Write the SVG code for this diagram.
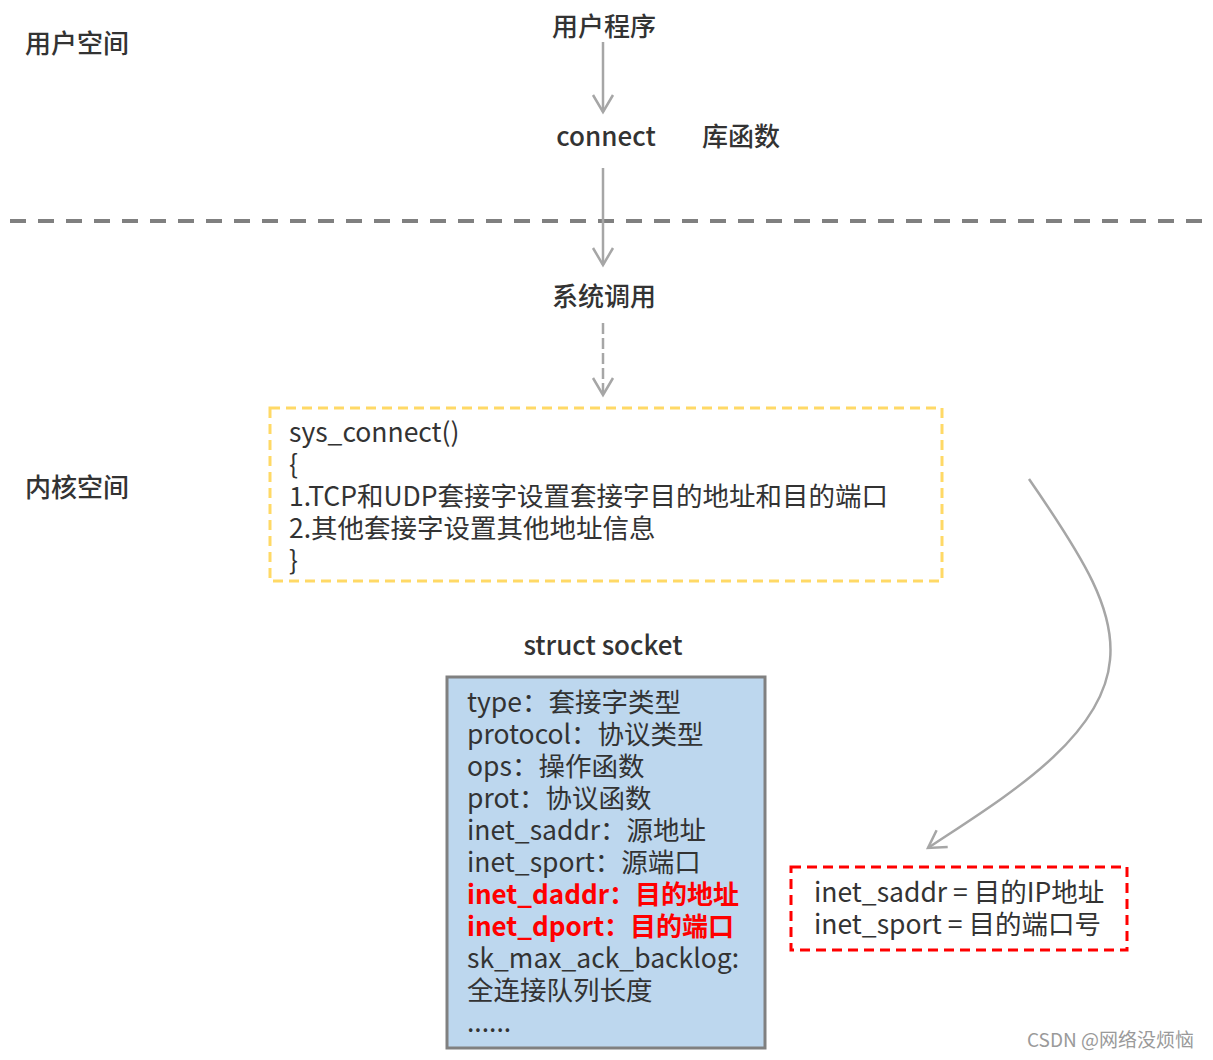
<svg xmlns="http://www.w3.org/2000/svg" width="1213" height="1060" viewBox="0 0 1213 1060">
<style>
text{font-family:"Noto Sans CJK SC","Liberation Sans",sans-serif;fill:#333333}
.title{font-size:26px;font-weight:500}
.body{font-size:26.5px}
.red{fill:#FF0000;font-weight:700;font-size:26px}
.conn{fill:none;stroke:#A6A6A6;stroke-width:2.5}
.wm{font-size:19px;fill:#9A9A9A}
</style>
<defs>
<marker id="arr" markerWidth="30" markerHeight="30" refX="20" refY="15" orient="auto" markerUnits="userSpaceOnUse">
<path d="M3,5 L20,15 L3,25" fill="none" stroke="#A6A6A6" stroke-width="2.5"/>
</marker>
</defs>
<rect width="1213" height="1060" fill="#FFFFFF"/>
<line x1="10" y1="221" x2="1203" y2="221" stroke="#808080" stroke-width="4" stroke-dasharray="16 12"/>
<g id="label-user"><text class="title" x="25" y="53">用户空间</text></g>
<g id="label-kernel"><text class="title" x="25" y="497">内核空间</text></g>
<g id="user-program"><text class="title" x="604" y="36" text-anchor="middle">用户程序</text></g>
<g id="connect"><text class="title" x="606" y="146" text-anchor="middle">connect</text></g>
<g id="libfunc"><text class="title" x="702" y="146">库函数</text></g>
<g id="syscall"><text class="title" x="604" y="306" text-anchor="middle">系统调用</text></g>
<g id="sys-connect">
<rect x="270" y="408" width="672" height="173" fill="none" stroke="#FFD966" stroke-width="3" stroke-dasharray="10 6"/>
<text class="body" x="289" y="442">sys_connect()</text>
<text class="body" x="289" y="474">{</text>
<text class="body" x="289" y="506">1.TCP和UDP套接字设置套接字目的地址和目的端口</text>
<text class="body" x="289" y="538">2.其他套接字设置其他地址信息</text>
<text class="body" x="289" y="570">}</text>
</g>
<g id="struct-socket-title"><text class="title" x="603" y="655" text-anchor="middle">struct socket</text></g>
<g id="struct-socket">
<rect x="447" y="677" width="318" height="371" fill="#BDD7EE" stroke="#808080" stroke-width="3"/>
<text class="body" x="467" y="712">type：套接字类型</text>
<text class="body" x="467" y="744">protocol：协议类型</text>
<text class="body" x="467" y="776">ops：操作函数</text>
<text class="body" x="467" y="808">prot：协议函数</text>
<text class="body" x="467" y="840">inet_saddr：源地址</text>
<text class="body" x="467" y="872">inet_sport：源端口</text>
<text class="body red" x="467" y="904">inet_daddr：目的地址</text>
<text class="body red" x="467" y="936">inet_dport：目的端口</text>
<text class="body" x="467" y="968">sk_max_ack_backlog:</text>
<text class="body" x="467" y="1000">全连接队列长度</text>
<text class="body" x="467" y="1032">......</text>
</g>
<g id="assign">
<rect x="791" y="867" width="336" height="83" fill="none" stroke="#FF0000" stroke-width="3" stroke-dasharray="10 6"/>
<text class="body" x="814" y="902">inet_saddr = 目的IP地址</text>
<text class="body" x="814" y="934">inet_sport = 目的端口号</text>
</g>
<g id="connectors">
<line class="conn" x1="603" y1="42" x2="603" y2="112" marker-end="url(#arr)"/>
<line class="conn" x1="603" y1="168" x2="603" y2="265" marker-end="url(#arr)"/>
<line class="conn" x1="603" y1="323" x2="603" y2="395" stroke-dasharray="11 4" marker-end="url(#arr)"/>
<path class="conn" d="M1029,479 C1085,560 1115,610 1110,660 C1103,740 1000,800 928,848" marker-end="url(#arr)"/>
</g>
<g id="watermark"><text class="wm" x="1027" y="1047">CSDN @网络没烦恼</text></g>
</svg>
